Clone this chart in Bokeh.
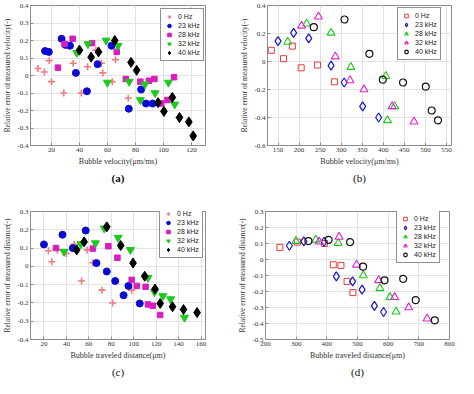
from bokeh.plotting import figure
from bokeh.layouts import column, row
from bokeh.models import FixedTicker, Range1d, CustomJSTickFormatter
from bokeh.embed import file_html
from bokeh.resources import INLINE

# ---------------- data ----------------
series_labels = ["0 Hz", "23 kHz", "28 kHz", "32 kHz", "40 kHz"]

# (a) relative error of velocity vs bubble velocity (filled markers)
a_x_0 = [10.3, 14.9, 18.4, 20.0, 28.8, 35.5, 41.3, 45.8, 51.6, 55.7, 56.7, 63.4, 65.7, 74.8]
a_y_0 = [0.04, 0.02, 0.085, -0.035, -0.10, 0.07, -0.10, 0.05, 0.145, 0.07, 0.015, -0.035, 0.09, -0.13]
a_x_23 = [15.4, 18.1, 27.2, 30.0, 33.2, 37.4, 45.3, 52.9, 62.9, 75.2, 84.0, 87.5, 92.2]
a_y_23 = [0.14, 0.135, 0.21, 0.175, 0.17, 0.015, -0.09, 0.065, 0.17, -0.19, -0.08, -0.16, -0.16]
a_x_28 = [24.6, 29.3, 35.1, 49.0, 66.6, 73.1, 83.5, 89.6, 93.5, 98.4, 102.8, 107.5]
a_y_28 = [0.045, 0.18, 0.21, 0.185, 0.135, -0.02, -0.035, -0.03, -0.02, -0.16, -0.14, -0.01]
a_x_32 = [38.1, 46.0, 59.0, 59.9, 67.5, 75.5, 83.5, 86.8, 94.0, 103.5, 108.0]
a_y_32 = [0.13, 0.18, 0.2, -0.04, 0.17, -0.035, -0.14, -0.05, -0.10, -0.04, -0.165]
a_x_40 = [40.0, 48.3, 53.6, 65.2, 76.8, 80.8, 96.1, 100.3, 106.3, 111.4, 118.1, 121.2]
a_y_40 = [0.145, 0.105, 0.135, 0.2, 0.075, 0.03, -0.155, -0.205, -0.125, -0.24, -0.265, -0.345]

# (b) relative error of velocity vs bubble velocity (open markers)
b_x_0 = [134, 163, 184, 205, 244, 284]
b_y_0 = [0.08, 0.02, 0.11, -0.045, -0.025, -0.145]
b_x_23 = [150, 187, 223, 276, 307, 351, 389]
b_y_23 = [0.145, 0.205, 0.165, -0.03, -0.15, -0.32, -0.40]
b_x_28 = [173, 218, 276, 323, 406, 410, 427]
b_y_28 = [0.14, 0.27, 0.205, -0.04, -0.105, -0.42, -0.32]
b_x_32 = [206, 246, 286, 321, 354, 421, 473]
b_y_32 = [0.255, 0.32, 0.035, -0.135, -0.20, -0.32, -0.43]
b_x_40 = [235, 308, 367, 399, 447, 501, 515, 530]
b_y_40 = [0.245, 0.30, 0.055, -0.13, -0.15, -0.18, -0.35, -0.42]

# (c) relative error of distance vs traveled distance (filled markers)
c_x_0 = [24, 27, 32, 40, 47, 53.5, 58.5, 63.5, 71.7, 81.2, 98.2]
c_y_0 = [0.085, 0.025, 0.09, 0.07, 0.12, -0.08, 0.09, 0.02, -0.13, -0.2, -0.13]
c_x_23 = [20, 36.5, 45.7, 57.2, 66.8, 76, 83.5, 91, 95.3, 105.4]
c_y_23 = [0.12, 0.173, 0.10, 0.196, 0.018, -0.028, -0.08, -0.158, -0.107, -0.203]
c_x_28 = [30.7, 63.6, 77.4, 85.5, 98.2, 102.8, 110.6, 112.7, 117, 123.6]
c_y_28 = [0.10, 0.097, 0.11, 0.047, -0.074, -0.107, -0.112, -0.208, -0.216, -0.266]
c_x_32 = [37.9, 52.9, 65.9, 73.7, 86.1, 97.1, 112.7, 118.5, 126, 132.9, 145.3]
c_y_32 = [0.08, 0.122, 0.127, 0.208, 0.157, 0.09, -0.062, -0.14, -0.162, -0.179, -0.28]
c_x_40 = [49.2, 55.8, 76, 88.4, 99.4, 109.8, 119, 123.6, 134.6, 144.4, 156.5]
c_y_40 = [0.09, 0.134, 0.216, 0.114, 0.018, -0.054, -0.124, -0.203, -0.221, -0.236, -0.253]

# (d) relative error of distance vs traveled distance (open markers)
d_x_0 = [247, 304, 392, 421, 446, 466, 485]
d_y_0 = [0.076, 0.109, 0.10, -0.033, -0.037, -0.137, -0.207]
d_x_23 = [278, 325, 391, 431, 484, 515, 555, 585]
d_y_23 = [0.086, 0.113, 0.111, -0.105, -0.137, -0.188, -0.29, -0.328]
d_x_28 = [299, 364, 437, 519, 573, 606, 626]
d_y_28 = [0.115, 0.123, 0.102, -0.10, -0.18, -0.236, -0.326]
d_x_32 = [375, 440, 497, 569, 621, 667, 727]
d_y_32 = [0.111, 0.141, -0.033, -0.13, -0.236, -0.30, -0.37]
d_x_40 = [340, 406, 476, 518, 588, 649, 690, 752]
d_y_40 = [0.115, 0.123, 0.109, -0.045, -0.13, -0.121, -0.254, -0.38]

a_xticks = [20, 40, 60, 80, 100, 120]
a_yticks = [-0.4, -0.3, -0.2, -0.1, 0, 0.1, 0.2, 0.3, 0.4]
b_xticks = [150, 200, 250, 300, 350, 400, 450, 500, 550]
b_yticks = [-0.6, -0.4, -0.2, 0, 0.2, 0.4]
c_xticks = [20, 40, 60, 80, 100, 120, 140, 160]
c_yticks = [-0.4, -0.3, -0.2, -0.1, 0, 0.1, 0.2, 0.3]
d_xticks = [200, 300, 400, 500, 600, 700, 800]
d_yticks = [-0.5, -0.4, -0.3, -0.2, -0.1, 0, 0.1, 0.2, 0.3]

vel_xlabel = "Bubble velocity(\u03bcm/ms)"
vel_ylabel = "Relative error of measured velocity(-)"
dist_xlabel = "Bubble traveled distance(\u03bcm)"
dist_ylabel = "Relative error of measured distance(-)"

SERIF = "Liberation Serif"
SANS = "Liberation Sans"

filled_styles = [
    dict(marker="cross", size=7, line_color="#f27c7c", fill_color="#f27c7c", line_width=1.6),
    dict(marker="circle", size=7, line_color="#0a0ad2", fill_color="#0a0ad2"),
    dict(marker="square", size=5.5, line_color="#d81ec0", fill_color="#d81ec0"),
    dict(marker="inverted_triangle", size=8, line_color="#1ec81e", fill_color="#1ec81e"),
    dict(marker="diamond", size=10, line_color="#000000", fill_color="#000000"),
]
open_styles = [
    dict(marker="square", size=6, line_color="#e83a3a", fill_color=None, line_width=1),
    dict(marker="diamond", size=9, line_color="#1818c8", fill_color=None, line_width=1.2),
    dict(marker="triangle", size=8, line_color="#1ec81e", fill_color=None, line_width=1.1),
    dict(marker="triangle", size=8, line_color="#e020d0", fill_color=None, line_width=1.1),
    dict(marker="circle", size=7, line_color="#111111", fill_color=None, line_width=1.2),
]

TICK_FMT = CustomJSTickFormatter(code="""
const v = Math.round(tick * 1000) / 1000;
return v == 0 ? "0" : String(v);
""")


def make_panel(title, xs, ys, styles, xr, yr, xticks, yticks, xlabel, ylabel,
               width, height, mb_left, mb_right, mb_top, mb_bottom,
               legend_gap_right, legend_gap_top, bold=False):
    p = figure(width=width, height=height, output_backend="svg", toolbar_location=None,
               title=title, title_location="below",
               x_range=Range1d(*xr), y_range=Range1d(*yr),
               min_border_left=mb_left, min_border_right=mb_right,
               min_border_top=mb_top, min_border_bottom=mb_bottom)
    p.title.align = "center"
    p.title.text_font = SERIF
    p.title.text_font_size = "11px"
    p.title.text_font_style = "bold" if bold else "normal"
    p.title.text_color = "#111111"
    p.title.standoff = 2
    p.outline_line_color = "#8c8c8c"
    p.outline_line_width = 1
    p.background_fill_color = "white"
    p.border_fill_color = "white"
    for ax, ticks, lab in ((p.xaxis[0], xticks, xlabel), (p.yaxis[0], yticks, ylabel)):
        ax.ticker = FixedTicker(ticks=ticks)
        ax.formatter = TICK_FMT
        ax.axis_label = lab
        ax.axis_label_text_font = SERIF
        ax.axis_label_text_font_style = "normal"
        ax.axis_label_text_color = "#333333"
        ax.axis_label_standoff = 2
        ax.major_label_text_font = SERIF
        ax.major_label_text_font_size = "7px"
        ax.major_label_text_color = "#333333"
        ax.major_label_standoff = 2
        ax.major_tick_in = 3
        ax.major_tick_out = 0
        ax.minor_tick_line_color = None
        ax.axis_line_color = "#8c8c8c"
        ax.major_tick_line_color = "#8c8c8c"
    p.xaxis.axis_label_text_font_size = "8px"
    p.yaxis.axis_label_text_font_size = "7.5px"
    p.xgrid.ticker = FixedTicker(ticks=xticks)
    p.ygrid.ticker = FixedTicker(ticks=yticks)
    p.grid.grid_line_color = "#e3e3e3"
    p.grid.grid_line_width = 1
    for x, y, st, lab in zip(xs, ys, styles, series_labels):
        p.scatter(x, y, legend_label=lab, **st)
    lg = p.legend[0]
    frame_w = width - mb_left - mb_right
    frame_h = height - mb_top - mb_bottom
    leg_w, leg_h = 42, 51
    lg.location = (frame_w - legend_gap_right - leg_w, frame_h - legend_gap_top - leg_h)
    lg.margin = 0
    lg.padding = 3
    lg.spacing = 0
    lg.glyph_width = 10
    lg.glyph_height = 9
    lg.label_height = 9
    lg.label_standoff = 4
    lg.label_text_font = SANS
    lg.label_text_font_size = "7px"
    lg.label_text_color = "#222222"
    lg.border_line_color = "#222222"
    lg.border_line_width = 1
    lg.background_fill_alpha = 1
    return p


pa = make_panel("(a)", [a_x_0, a_x_23, a_x_28, a_x_32, a_x_40],
                [a_y_0, a_y_23, a_y_28, a_y_32, a_y_40], filled_styles,
                (5, 130), (-0.4, 0.4), a_xticks, a_yticks, vel_xlabel, vel_ylabel,
                228, 188, 30, 23, 5, 43, 3, 5, bold=True)
pb = make_panel("(b)", [b_x_0, b_x_23, b_x_28, b_x_32, b_x_40],
                [b_y_0, b_y_23, b_y_28, b_y_32, b_y_40], open_styles,
                (125, 562), (-0.6, 0.4), b_xticks, b_yticks, vel_xlabel, vel_ylabel,
                230, 188, 39, 7, 5, 43, 12, 4)
pc = make_panel("(c)", [c_x_0, c_x_23, c_x_28, c_x_32, c_x_40],
                [c_y_0, c_y_23, c_y_28, c_y_32, c_y_40], filled_styles,
                (8, 164), (-0.4, 0.3), c_xticks, c_yticks, dist_xlabel, dist_ylabel,
                228, 190, 30, 23, 14, 38, 4, 6)
pd_ = make_panel("(d)", [d_x_0, d_x_23, d_x_28, d_x_32, d_x_40],
                 [d_y_0, d_y_23, d_y_28, d_y_32, d_y_40], open_styles,
                 (200, 800), (-0.5, 0.3), d_xticks, d_yticks, dist_xlabel, dist_ylabel,
                 230, 190, 37, 9, 23, 38, 11, 2)

layout = column(row(pa, pb), row(pc, pd_))
open("out.html", "w").write(file_html(layout, INLINE))
